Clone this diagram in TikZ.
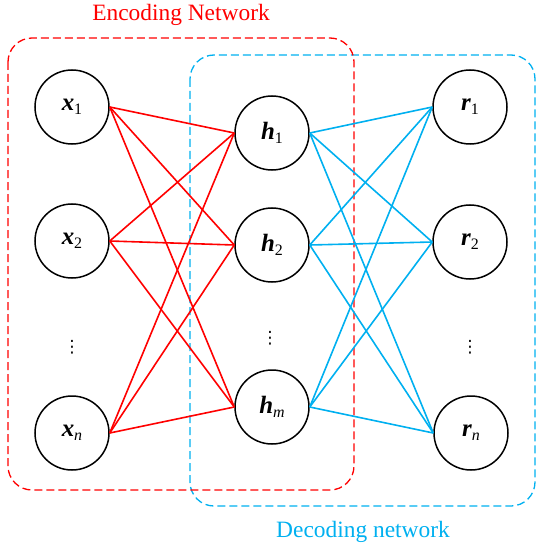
\documentclass[tikz,border=0pt]{standalone}
\usepackage{fontspec}
\setmainfont{Liberation Serif}
\newfontfamily\dotfont{DejaVu Sans}
\usepackage{tikz}
\usetikzlibrary{positioning}
\definecolor{encred}{RGB}{255,0,0}
\definecolor{decblue}{RGB}{0,176,240}
\newcommand{\unitlab}[2]{{\bfseries\itshape #1}\raisebox{-0.35ex}{\fontsize{16}{16}\selectfont #2}}
\tikzset{
  neuron/.style={circle, draw=black, fill=white, line width=1.5bp, minimum size=74bp, inner sep=0pt, font=\fontsize{25}{25}\selectfont},
  vdotlab/.style={font=\dotfont\fontsize{17}{17}\selectfont, inner sep=0pt},
  enc/.style={encred, line width=1.6bp},
  dec/.style={decblue, line width=1.6bp},
  netbox/.style={line width=1.3bp, dash pattern=on 8bp off 4bp, rounded corners=24bp},
}

\begin{document}
\begin{tikzpicture}[x=1bp,y=-1bp]
  \useasboundingbox (0,0) rectangle (542,550);
  % the two dashed frames
  \draw[netbox, decblue] (190,55) rectangle (535,506);
  \draw[netbox, encred] (8,38) rectangle (354,490);
  \node[text=encred, font=\fontsize{23.5}{24}\selectfont] (enctitle) at (181,15) {Encoding Network};
  \node[text=decblue, font=\fontsize{23.5}{24}\selectfont] (dectitle) at (363,532) {Decoding network};
  % input layer
  \node[neuron] (x1) at (72,107) {\unitlab{x}{1}};
  \node[neuron] (x2) at (72,241) {\unitlab{x}{2}};
  \node[vdotlab] (xd) at (72,347) {⋮};
  \node[neuron] (xn) at (72,433) {\unitlab{x}{\textit{n}}};
  % hidden layer
  \node[neuron] (h1) at (272,133) {\unitlab{h}{1}};
  \node[neuron] (h2) at (272,245) {\unitlab{h}{2}};
  \node[vdotlab] (hd) at (270,338) {⋮};
  \node[neuron] (hm) at (272,407) {\unitlab{h}{\textit{m}}};
  % output layer
  \node[neuron] (r1) at (470,107) {\unitlab{r}{1}};
  \node[neuron] (r2) at (470,242) {\unitlab{r}{2}};
  \node[vdotlab] (rd) at (470,347) {⋮};
  \node[neuron] (rn) at (471,433) {\unitlab{r}{\textit{n}}};
  % connections
  \foreach \a in {x1,x2,xn}
    \foreach \b in {h1,h2,hm}
      \draw[enc] (\a.east) -- (\b.west);
  \foreach \a in {h1,h2,hm}
    \foreach \b in {r1,r2,rn}
      \draw[dec] (\a.east) -- (\b.west);
\end{tikzpicture}
\end{document}
